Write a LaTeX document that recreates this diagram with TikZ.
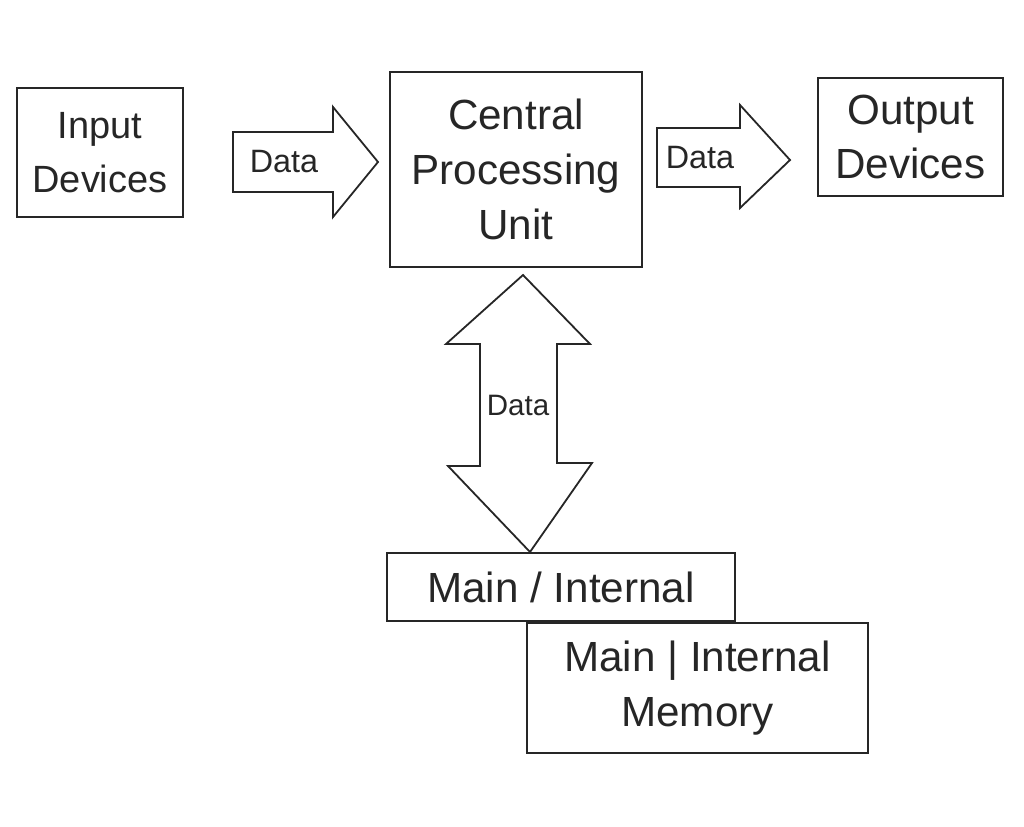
\documentclass[tikz,border=0pt]{standalone}
\usepackage{fontspec}
\setmainfont{Liberation Sans}
\begin{document}
\begin{tikzpicture}[x=0.25mm, y=-0.25mm, line width=0.45mm, color=black!85,
	box/.style={draw, rectangle, align=center, inner sep=1mm, font=\fontsize{30}{39}\selectfont},
	datalabel/.style={inner sep=0pt, font=\fontsize{23}{27}\selectfont}]
			%%%%% START %%%%%
			
			\useasboundingbox (0, 0) rectangle (1024, 826);
			
			\node[box, font=\fontsize{27}{38}\selectfont, minimum width=41.5mm, minimum height=32.25mm] (input) at (100, 152.5) {Input\\Devices};
			\node[box, minimum width=63mm, minimum height=48.75mm] (cpu) at (516, 169.5) {Central\\Processing\\Unit};
			\node[box, minimum width=46.25mm, minimum height=29.5mm] (output) at (910.5, 137) {Output\\Devices};
			
			\draw (233, 132) -- (333, 132) -- (333, 107) -- (378, 162) -- (333, 217) -- (333, 192) -- (233, 192) -- cycle;
			\node[datalabel] (datain) at (284, 162) {Data};
			
			\draw (657, 128) -- (740, 128) -- (740, 105) -- (790, 160) -- (740, 208) -- (740, 187) -- (657, 187) -- cycle;
			\node[datalabel] (dataout) at (700, 158) {Data};
			
			\draw (523, 275) -- (590, 344) -- (557, 344) -- (557, 463) -- (592, 463) -- (530, 552)
				-- (448, 466) -- (480, 466) -- (480, 344) -- (446, 344) -- cycle;
			\node[datalabel, font=\fontsize{21}{25}\selectfont] (datamem) at (518, 405) {Data};
			
			\node[box, minimum width=87mm, minimum height=17mm] (mainmem) at (561, 587) {Main / Internal};
			\node[box, minimum width=85.25mm, minimum height=32.5mm] (memory) at (697.5, 688) {Main | Internal\\Memory};
			
			%%%%% END %%%%%
\end{tikzpicture}
\end{document}
